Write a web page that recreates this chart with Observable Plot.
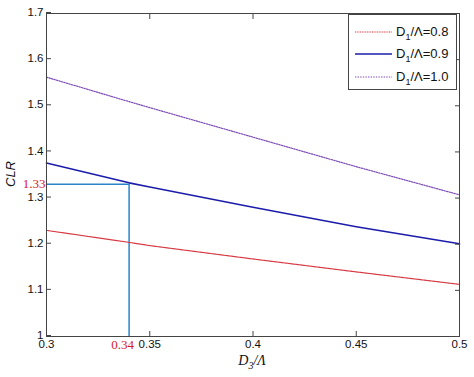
<!DOCTYPE html>
<html>
<head>
<meta charset="utf-8">
<script src="https://cdn.jsdelivr.net/npm/d3@7"></script>
<script src="https://cdn.jsdelivr.net/npm/@observablehq/plot@0.6"></script>
<style>
  body { margin: 0; background: #fff; }
  #chart { position: relative; width: 474px; height: 377px; }
</style>
</head>
<body>
<div id="chart"></div>
<script>
// ---- data ----
const xValues = [0.30, 0.34, 0.35, 0.40, 0.45, 0.50];
const clr08 = [1.230, 1.204, 1.197, 1.168, 1.140, 1.113];
const clr09 = [1.376, 1.333, 1.324, 1.280, 1.238, 1.201];
const clr10 = [1.562, 1.509, 1.496, 1.432, 1.368, 1.307];
const seriesNames = ["D1/Λ=0.8", "D1/Λ=0.9", "D1/Λ=1.0"];
const xTicks = [0.3, 0.35, 0.4, 0.45, 0.5];
const yTicks = [1, 1.1, 1.2, 1.3, 1.4, 1.5, 1.6, 1.7];
const markX = 0.34;
const markY = 1.33;
const markXLabel = "0.34";
const markYLabel = "1.33";

const rows = [];
[clr08, clr09, clr10].forEach((arr, s) => arr.forEach((v, i) => rows.push({x: xValues[i], y: v, s: seriesNames[s]})));
const guide = [{x: 0.3, y: markY}, {x: markX, y: markY}, {x: markX, y: 1}];

const styles = {
  "D1/Λ=0.8": {stroke: "#d83a44", width: 1.2, dash: "1,0.7"},
  "D1/Λ=0.9": {stroke: "#1c1caa", width: 1.6, dash: null},
  "D1/Λ=1.0": {stroke: "#7d4cb4", width: 1.2, dash: "1.4,1.2"}
};

const fmt = d => String(+d.toFixed(2));

const plot = Plot.plot({
  width: 474,
  height: 377,
  marginLeft: 46,
  marginRight: 15,
  marginTop: 13,
  marginBottom: 41,
  style: {background: "#fff", fontFamily: "'Liberation Sans', Arial, sans-serif", fontSize: "11.5px", color: "#111"},
  x: {domain: [0.3, 0.5]},
  y: {domain: [1, 1.7]},
  marks: [
    Plot.line(guide, {x: "x", y: "y", stroke: "#2a86c8", strokeWidth: 1.5}),
    ...seriesNames.map(n => Plot.line(rows.filter(r => r.s === n), {
      x: "x", y: "y", stroke: styles[n].stroke, strokeWidth: styles[n].width,
      strokeDasharray: styles[n].dash
    })),
    Plot.frame({stroke: "#444", strokeWidth: 1}),
    Plot.axisX(xTicks, {anchor: "bottom", tickSize: -5, tickPadding: 8, tickFormat: fmt, label: null, stroke: "#444"}),
    Plot.axisX(xTicks, {anchor: "top", tickSize: -5, tickFormat: () => "", label: null, stroke: "#444"}),
    Plot.axisY(yTicks, {anchor: "left", tickSize: -5, tickPadding: 8, tickFormat: fmt, label: null, stroke: "#444", dy: -1}),
    Plot.axisY(yTicks, {anchor: "right", tickSize: -5, tickFormat: () => "", label: null, stroke: "#444"}),
    Plot.text([markXLabel], {x: () => markX, y: () => 1, text: d => d, textAnchor: "end", dx: 5, dy: 8,
      fill: "#d8202a", fontFamily: "'Liberation Serif', 'Times New Roman', serif", fontSize: 13}),
    Plot.text([markYLabel], {x: () => 0.3, y: () => markY, text: d => d, textAnchor: "end", dx: -1,
      fill: "#d8202a", fontFamily: "'Liberation Serif', 'Times New Roman', serif", fontSize: 13})
  ]
});
document.getElementById("chart").appendChild(plot);

// axis titles and legend (added into the svg)
const svg = d3.select(plot);
const xl = svg.append("text").attr("x", 252).attr("y", 365).attr("text-anchor", "middle")
  .attr("font-family", "'Liberation Serif', 'Times New Roman', serif").attr("font-style", "italic")
  .attr("font-size", 14).attr("fill", "#111");
xl.append("tspan").text("D");
xl.append("tspan").attr("font-size", 10).attr("dy", 4).text("3");
xl.append("tspan").attr("dy", -4).text("/Λ");

svg.append("text").attr("transform", "translate(15,174) rotate(-90)").attr("text-anchor", "middle")
  .attr("font-family", "'Liberation Sans', Arial, sans-serif").attr("font-style", "italic")
  .attr("font-size", 13).attr("fill", "#111").text("CLR");

const lg = svg.append("g");
lg.append("rect").attr("x", 348.5).attr("y", 14.5).attr("width", 108).attr("height", 75)
  .attr("fill", "#fff").attr("stroke", "#444").attr("stroke-width", 1);
const legendY = [32, 54, 77];
seriesNames.forEach((n, i) => {
  const st = styles[n];
  lg.append("line").attr("x1", 355).attr("x2", 392).attr("y1", legendY[i]).attr("y2", legendY[i])
    .attr("stroke", st.stroke).attr("stroke-width", st.width).attr("stroke-dasharray", st.dash);
  const t = lg.append("text").attr("x", 396).attr("y", legendY[i] + 4).attr("text-anchor", "start")
    .attr("font-family", "'Liberation Sans', Arial, sans-serif").attr("font-size", 13).attr("fill", "#111");
  t.append("tspan").text("D");
  t.append("tspan").attr("font-size", 9).attr("dy", 3.5).text("1");
  t.append("tspan").attr("dy", -3.5).text(n.slice(2));
});
</script>
</body>
</html>
